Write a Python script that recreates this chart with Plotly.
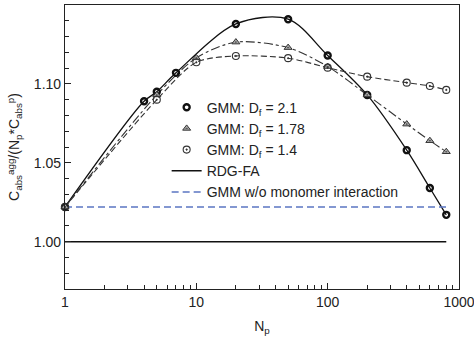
import plotly.graph_objects as go

# Data
N_21 = [1, 4, 5, 7, 20, 50, 100, 200, 400, 600, 800]
C_21 = [1.022, 1.089, 1.095, 1.107, 1.138, 1.141, 1.118, 1.093, 1.058, 1.034, 1.017]

N_178 = [1, 5, 10, 20, 50, 100, 200, 400, 600, 800]
C_178 = [1.022, 1.093, 1.1165, 1.1265, 1.123, 1.111, 1.093, 1.0745, 1.064, 1.057]

N_14 = [1, 5, 10, 20, 50, 100, 200, 400, 600, 800]
C_14 = [1.022, 1.090, 1.1137, 1.1177, 1.1163, 1.1103, 1.1046, 1.1008, 1.0987, 1.0962]

N_ref = [1, 800]
C_rdg = [1.00, 1.00]
C_nomono = [1.022, 1.022]

x_ticks = [1, 10, 100, 1000]
x_tick_text = ["1", "10", "100", "1000"]
y_ticks = [1.00, 1.05, 1.10, 1.15]

FONT = "Liberation Sans, Arial, sans-serif"
fig = go.Figure()

# fitted curves (no legend)
fig.add_trace(go.Scatter(x=N_21, y=C_21, mode="lines", line=dict(color="#111", width=1.3, shape="spline", smoothing=0.9),
                         showlegend=False, hoverinfo="skip"))
fig.add_trace(go.Scatter(x=N_178, y=C_178, mode="lines", line=dict(color="#333", width=1.1, shape="spline", smoothing=0.8, dash="dashdot"),
                         showlegend=False, hoverinfo="skip"))
fig.add_trace(go.Scatter(x=N_14, y=C_14, mode="lines", line=dict(color="#333", width=1.1, shape="spline", smoothing=0.8, dash="6px,3px"),
                         showlegend=False, hoverinfo="skip"))

# reference lines
fig.add_trace(go.Scatter(x=N_ref, y=C_rdg, mode="lines", name="RDG-FA", line=dict(color="#111", width=1.5), legendrank=4))
fig.add_trace(go.Scatter(x=N_ref, y=C_nomono, mode="lines", name="GMM w/o monomer interaction",
                         line=dict(color="#5b76c2", width=1.5, dash="7px,4px"), legendrank=5))

# markers
fig.add_trace(go.Scatter(x=N_21, y=C_21, mode="markers", name="GMM: D<sub>f</sub> = 2.1", cliponaxis=False,
                         marker=dict(symbol="circle-open", size=6, color="#111", line=dict(width=2.4, color="#111")), legendrank=1))
fig.add_trace(go.Scatter(x=N_178, y=C_178, mode="markers", name="GMM: D<sub>f</sub> = 1.78", cliponaxis=False,
                         marker=dict(symbol="triangle-up-dot", size=7, color="#aaa", line=dict(width=1, color="#333")), legendrank=2))
fig.add_trace(go.Scatter(x=N_14, y=C_14, mode="markers", name="GMM: D<sub>f</sub> = 1.4", cliponaxis=False,
                         marker=dict(symbol="circle-open-dot", size=7, color="#333", line=dict(width=1.1, color="#333")), legendrank=3))

fig.update_layout(
    width=474, height=343,
    margin=dict(l=65, r=15, t=5, b=54, autoexpand=False),
    paper_bgcolor="white", plot_bgcolor="white",
    font=dict(family=FONT, size=14, color="#222"),
    legend=dict(x=0.258, y=0.695, xanchor="left", yanchor="top", bgcolor="rgba(0,0,0,0)",
                font=dict(size=14, color="#222"), tracegroupgap=0, itemwidth=30),
    xaxis=dict(type="log", range=[0, 3], tickvals=x_ticks, ticktext=x_tick_text, ticklabeloverflow="allow",
               automargin=False,
               ticks="inside", ticklen=6, tickcolor="#222", showline=True, linecolor="#222", linewidth=1.2,
               mirror=True, showgrid=False, zeroline=False,
               minor=dict(ticks="inside", ticklen=4, tickcolor="#222",
                          tickvals=[2, 3, 4, 5, 6, 7, 8, 9, 20, 30, 40, 50, 60, 70, 80, 90,
                                    200, 300, 400, 500, 600, 700, 800, 900], showgrid=False),
               title=dict(text="N<sub>p</sub>", standoff=12, font=dict(size=14))),
    yaxis=dict(range=[0.97, 1.15], tickvals=y_ticks, tickformat=".2f", automargin=False,
               ticks="inside", ticklen=6, tickcolor="#222", showline=True, linecolor="#222", linewidth=1.2,
               mirror=True, showgrid=False, zeroline=False,
               minor=dict(ticks="inside", ticklen=4, tickcolor="#222", dtick=0.01, showgrid=False),
               title=dict(text="C<sub>abs</sub><sup>agg</sup>/(N<sub>p</sub>*C<sub>abs</sub><sup>p</sup>)", standoff=10, font=dict(size=14))),
)

fig.write_html("out.html")
